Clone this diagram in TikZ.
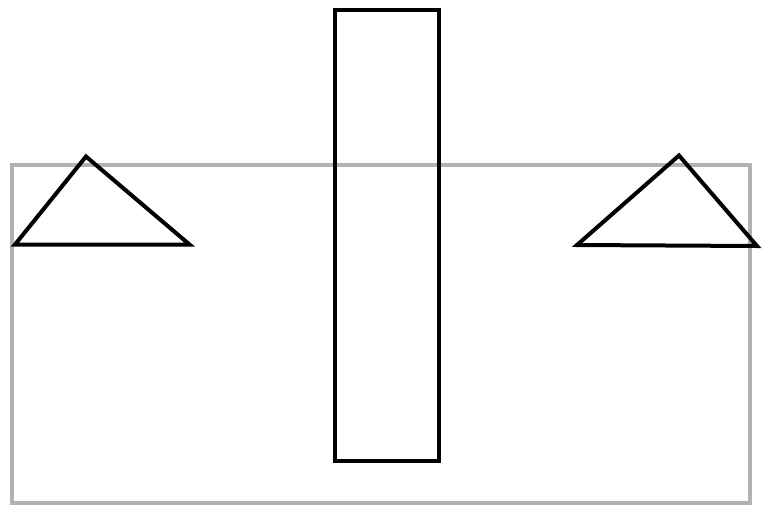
\documentclass[tikz,border=0pt]{standalone}
\begin{document}
\begin{tikzpicture}[x=1pt,y=-1pt,
  graybox/.style={draw=black!30,line width=4pt},
  blackshape/.style={draw=black,line width=4pt,line join=miter}]
\useasboundingbox (0,0) rectangle (768,515);
\draw[graybox] (12,164.5) rectangle (750,502.5);
\draw[blackshape] (335,9.5) rectangle (438.5,461);
\draw[blackshape] (15,244.5) -- (86,156.5) -- (189.5,244.5) -- cycle;
\draw[blackshape] (577,245) -- (679,155.5) -- (757,246) -- cycle;
\end{tikzpicture}
\end{document}
